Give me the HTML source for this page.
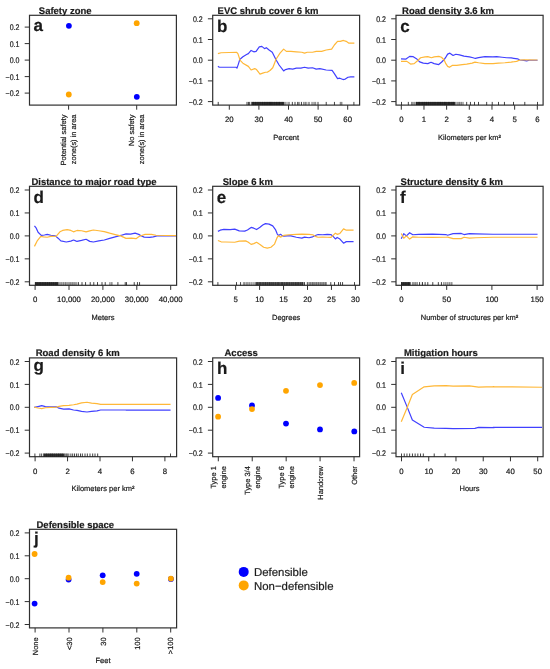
<!DOCTYPE html>
<html><head><meta charset="utf-8"><style>
html,body{margin:0;padding:0;background:#fff;}
body{width:550px;height:669px;overflow:hidden;}
svg{display:block;font-family:"Liberation Sans",sans-serif;fill:#1a1a1a;}
text{stroke:#1a1a1a;stroke-width:0.2;text-rendering:geometricPrecision;}
</style></head><body>
<svg width="550" height="669" viewBox="0 0 550 669">
<defs><filter id="bl" x="0" y="0" width="550" height="669" filterUnits="userSpaceOnUse" color-interpolation-filters="sRGB"><feGaussianBlur stdDeviation="0.35"/></filter></defs>
<rect width="550" height="669" fill="#fff"/>
<g fill="#1a1a1a" filter="url(#bl)">
<rect x="29.5" y="15.3" width="146.9" height="89.8" fill="none" stroke="#303030" stroke-width="1.2"/>
<line x1="24.7" y1="27.1" x2="29.5" y2="27.1" stroke="#303030" stroke-width="1"/>
<text transform="translate(19.5,30.2) scale(0.86,1)" font-size="8.2" text-anchor="end" font-weight="normal">0.2</text>
<line x1="24.7" y1="43.6" x2="29.5" y2="43.6" stroke="#303030" stroke-width="1"/>
<text transform="translate(19.5,46.7) scale(0.86,1)" font-size="8.2" text-anchor="end" font-weight="normal">0.1</text>
<line x1="24.7" y1="60.1" x2="29.5" y2="60.1" stroke="#303030" stroke-width="1"/>
<text transform="translate(19.5,63.2) scale(0.86,1)" font-size="8.2" text-anchor="end" font-weight="normal">0.0</text>
<line x1="24.7" y1="76.6" x2="29.5" y2="76.6" stroke="#303030" stroke-width="1"/>
<text transform="translate(19.5,79.7) scale(0.86,1)" font-size="8.2" text-anchor="end" font-weight="normal">−0.1</text>
<line x1="24.7" y1="93.1" x2="29.5" y2="93.1" stroke="#303030" stroke-width="1"/>
<text transform="translate(19.5,96.2) scale(0.86,1)" font-size="8.2" text-anchor="end" font-weight="normal">−0.2</text>
<line x1="68.6" y1="105.1" x2="68.6" y2="109.7" stroke="#303030" stroke-width="1"/>
<line x1="136.7" y1="105.1" x2="136.7" y2="109.7" stroke="#303030" stroke-width="1"/>
<text transform="translate(66.3,114.6) rotate(-90)" font-size="7.45" text-anchor="end">Potential safety</text>
<text transform="translate(76.3,114.6) rotate(-90)" font-size="7.45" text-anchor="end">zone(s) in area</text>
<text transform="translate(134.4,114.6) rotate(-90)" font-size="7.45" text-anchor="end">No safety</text>
<text transform="translate(144.4,114.6) rotate(-90)" font-size="7.45" text-anchor="end">zone(s) in area</text>
<circle cx="68.9" cy="25.85" r="2.9" fill="#0000ff"/>
<circle cx="136.7" cy="23.2" r="2.9" fill="#ffa500"/>
<circle cx="68.8" cy="94.5" r="2.9" fill="#ffa500"/>
<circle cx="136.8" cy="96.8" r="2.9" fill="#0000ff"/>
<text x="38.8" y="13.8" font-size="9.5" text-anchor="start" font-weight="bold">Safety zone</text>
<text x="33.4" y="31.3" font-size="17" text-anchor="start" font-weight="bold">a</text>
<rect x="212.7" y="15.3" width="146.9" height="89.8" fill="none" stroke="#303030" stroke-width="1.2"/>
<line x1="207.9" y1="18.8" x2="212.7" y2="18.8" stroke="#303030" stroke-width="1"/>
<text transform="translate(202.7,21.9) scale(0.86,1)" font-size="8.2" text-anchor="end" font-weight="normal">0.2</text>
<line x1="207.9" y1="39.5" x2="212.7" y2="39.5" stroke="#303030" stroke-width="1"/>
<text transform="translate(202.7,42.6) scale(0.86,1)" font-size="8.2" text-anchor="end" font-weight="normal">0.1</text>
<line x1="207.9" y1="60.2" x2="212.7" y2="60.2" stroke="#303030" stroke-width="1"/>
<text transform="translate(202.7,63.3) scale(0.86,1)" font-size="8.2" text-anchor="end" font-weight="normal">0.0</text>
<line x1="207.9" y1="80.9" x2="212.7" y2="80.9" stroke="#303030" stroke-width="1"/>
<text transform="translate(202.7,84) scale(0.86,1)" font-size="8.2" text-anchor="end" font-weight="normal">−0.1</text>
<line x1="207.9" y1="101.6" x2="212.7" y2="101.6" stroke="#303030" stroke-width="1"/>
<text transform="translate(202.7,104.7) scale(0.86,1)" font-size="8.2" text-anchor="end" font-weight="normal">−0.2</text>
<line x1="229.3" y1="105.1" x2="229.3" y2="109.7" stroke="#303030" stroke-width="1"/>
<text x="229.3" y="122" font-size="7.8" text-anchor="middle" font-weight="normal">20</text>
<line x1="258.9" y1="105.1" x2="258.9" y2="109.7" stroke="#303030" stroke-width="1"/>
<text x="258.9" y="122" font-size="7.8" text-anchor="middle" font-weight="normal">30</text>
<line x1="288.5" y1="105.1" x2="288.5" y2="109.7" stroke="#303030" stroke-width="1"/>
<text x="288.5" y="122" font-size="7.8" text-anchor="middle" font-weight="normal">40</text>
<line x1="318.1" y1="105.1" x2="318.1" y2="109.7" stroke="#303030" stroke-width="1"/>
<text x="318.1" y="122" font-size="7.8" text-anchor="middle" font-weight="normal">50</text>
<line x1="347.7" y1="105.1" x2="347.7" y2="109.7" stroke="#303030" stroke-width="1"/>
<text x="347.7" y="122" font-size="7.8" text-anchor="middle" font-weight="normal">60</text>
<rect x="217.75" y="101.9" width="0.9" height="3.2" fill="#1a1a1a" fill-opacity="0.9"/>
<rect x="246.55" y="101.9" width="0.9" height="3.2" fill="#1a1a1a" fill-opacity="0.9"/>
<rect x="247.95" y="101.9" width="0.9" height="3.2" fill="#1a1a1a" fill-opacity="0.9"/>
<rect x="249.25" y="101.9" width="0.9" height="3.2" fill="#1a1a1a" fill-opacity="0.9"/>
<rect x="251.5" y="101.9" width="33" height="3.2" fill="#1a1a1a" fill-opacity="0.9"/>
<rect x="251.55" y="101.9" width="0.7" height="3.2" fill="#1a1a1a" fill-opacity="0.79"/>
<rect x="253.05" y="101.9" width="0.7" height="3.2" fill="#1a1a1a" fill-opacity="0.81"/>
<rect x="255.31" y="101.9" width="0.7" height="3.2" fill="#1a1a1a" fill-opacity="0.76"/>
<rect x="257.63" y="101.9" width="0.7" height="3.2" fill="#1a1a1a" fill-opacity="0.74"/>
<rect x="259.73" y="101.9" width="0.7" height="3.2" fill="#1a1a1a" fill-opacity="0.64"/>
<rect x="262.03" y="101.9" width="0.7" height="3.2" fill="#1a1a1a" fill-opacity="0.88"/>
<rect x="264.14" y="101.9" width="0.7" height="3.2" fill="#1a1a1a" fill-opacity="0.75"/>
<rect x="265.7" y="101.9" width="0.7" height="3.2" fill="#1a1a1a" fill-opacity="0.72"/>
<rect x="267.53" y="101.9" width="0.7" height="3.2" fill="#1a1a1a" fill-opacity="0.84"/>
<rect x="269.19" y="101.9" width="0.7" height="3.2" fill="#1a1a1a" fill-opacity="0.76"/>
<rect x="270.45" y="101.9" width="0.7" height="3.2" fill="#1a1a1a" fill-opacity="0.95"/>
<rect x="271.65" y="101.9" width="0.7" height="3.2" fill="#1a1a1a" fill-opacity="0.89"/>
<rect x="273.95" y="101.9" width="0.7" height="3.2" fill="#1a1a1a" fill-opacity="0.61"/>
<rect x="276.08" y="101.9" width="0.7" height="3.2" fill="#1a1a1a" fill-opacity="0.71"/>
<rect x="277.72" y="101.9" width="0.7" height="3.2" fill="#1a1a1a" fill-opacity="0.61"/>
<rect x="279.29" y="101.9" width="0.7" height="3.2" fill="#1a1a1a" fill-opacity="0.91"/>
<rect x="281.8" y="101.9" width="0.7" height="3.2" fill="#1a1a1a" fill-opacity="0.57"/>
<rect x="285" y="101.9" width="3" height="3.2" fill="#1a1a1a" fill-opacity="0.29"/>
<rect x="285.05" y="101.9" width="0.7" height="3.2" fill="#1a1a1a" fill-opacity="0.27"/>
<rect x="288.55" y="101.9" width="0.9" height="3.2" fill="#1a1a1a" fill-opacity="0.9"/>
<rect x="291.85" y="101.9" width="0.9" height="3.2" fill="#1a1a1a" fill-opacity="0.9"/>
<rect x="294.55" y="101.9" width="0.9" height="3.2" fill="#1a1a1a" fill-opacity="0.9"/>
<rect x="297.25" y="101.9" width="0.9" height="3.2" fill="#1a1a1a" fill-opacity="0.9"/>
<rect x="298.55" y="101.9" width="0.9" height="3.2" fill="#1a1a1a" fill-opacity="0.9"/>
<rect x="300.95" y="101.9" width="0.9" height="3.2" fill="#1a1a1a" fill-opacity="0.9"/>
<rect x="303.3" y="101.9" width="4.2" height="3.2" fill="#1a1a1a" fill-opacity="0.34"/>
<rect x="303.35" y="101.9" width="0.7" height="3.2" fill="#1a1a1a" fill-opacity="0.46"/>
<rect x="305.37" y="101.9" width="0.7" height="3.2" fill="#1a1a1a" fill-opacity="0.43"/>
<rect x="308.55" y="101.9" width="0.9" height="3.2" fill="#1a1a1a" fill-opacity="0.9"/>
<rect x="311.5" y="101.9" width="4.8" height="3.2" fill="#1a1a1a" fill-opacity="0.29"/>
<rect x="311.55" y="101.9" width="0.7" height="3.2" fill="#1a1a1a" fill-opacity="0.42"/>
<rect x="313.79" y="101.9" width="0.7" height="3.2" fill="#1a1a1a" fill-opacity="0.34"/>
<rect x="315.11" y="101.9" width="0.7" height="3.2" fill="#1a1a1a" fill-opacity="0.37"/>
<rect x="317.55" y="101.9" width="0.9" height="3.2" fill="#1a1a1a" fill-opacity="0.9"/>
<rect x="325.75" y="101.9" width="0.9" height="3.2" fill="#1a1a1a" fill-opacity="0.9"/>
<rect x="333.95" y="101.9" width="0.9" height="3.2" fill="#1a1a1a" fill-opacity="0.9"/>
<rect x="339.8" y="101.9" width="2.7" height="3.2" fill="#1a1a1a" fill-opacity="0.34"/>
<rect x="339.85" y="101.9" width="0.7" height="3.2" fill="#1a1a1a" fill-opacity="0.45"/>
<rect x="341.44" y="101.9" width="0.7" height="3.2" fill="#1a1a1a" fill-opacity="0.4"/>
<rect x="353.45" y="101.9" width="0.9" height="3.2" fill="#1a1a1a" fill-opacity="0.9"/>
<path d="M217.91 66.36 L219.27 67.27 L236.09 67.27 L237 68.18 L238.36 64.09 L239.73 59.55 L242.91 56.82 L246.55 54.55 L248.36 53.64 L251.09 50.45 L253.82 51.82 L256.09 51.36 L259.27 46.82 L261.82 46.36 L264.55 48.64 L266.36 47.73 L269.09 50 L272.27 52.27 L273.64 55 L275.91 59.55 L279.09 65 L283.64 70.91 L285.45 69.55 L289.09 68.64 L292.73 69.09 L296.36 68.18 L300.91 68.18 L304.55 67.27 L308.18 68.18 L308 68.18 L312.55 67.73 L316.18 69.09 L319.82 68.64 L326.18 70 L332.09 70.45 L334.36 73.64 L337.55 78.64 L339.82 78.18 L343 79.55 L345.27 79.09 L348 77.27 L350.73 76.82 L354.36 76.82" stroke="#4040ff" stroke-width="1.2" fill="none" stroke-linejoin="round"/>
<path d="M217.91 53.64 L221.09 52.73 L236.55 52.27 L237.91 53.64 L240.18 60.45 L242.91 63.18 L248.36 66.36 L251.09 70 L254.73 68.64 L256.55 69.55 L259.27 73.18 L260 74.09 L262.73 73.18 L265.45 72.27 L267.27 72.27 L270 70.45 L272.73 67.73 L274.55 63.18 L275.91 59.55 L280 53.18 L283.64 49.09 L286.36 51.36 L290.91 51.36 L296.36 51.82 L301.82 52.27 L304.55 53.18 L307.27 52.27 L308 52.27 L312.55 52.27 L316.18 51.36 L321.64 51.36 L326.18 50 L331.64 49.09 L334.36 45 L337.55 41.36 L340.27 41.36 L343.45 40.45 L346.18 41.36 L348.91 43.18 L351.64 43.18 L354.36 43.18" stroke="#ffb838" stroke-width="1.2" fill="none" stroke-linejoin="round"/>
<text x="217.6" y="13.8" font-size="9.5" text-anchor="start" font-weight="bold">EVC shrub cover 6 km</text>
<text x="217" y="31.7" font-size="17" text-anchor="start" font-weight="bold">b</text>
<text x="286.15" y="139.7" font-size="7.5" text-anchor="middle" font-weight="normal">Percent</text>
<rect x="396" y="15.3" width="147.1" height="89.8" fill="none" stroke="#303030" stroke-width="1.2"/>
<line x1="391.2" y1="18.8" x2="396" y2="18.8" stroke="#303030" stroke-width="1"/>
<text transform="translate(386,21.9) scale(0.86,1)" font-size="8.2" text-anchor="end" font-weight="normal">0.2</text>
<line x1="391.2" y1="39.5" x2="396" y2="39.5" stroke="#303030" stroke-width="1"/>
<text transform="translate(386,42.6) scale(0.86,1)" font-size="8.2" text-anchor="end" font-weight="normal">0.1</text>
<line x1="391.2" y1="60.2" x2="396" y2="60.2" stroke="#303030" stroke-width="1"/>
<text transform="translate(386,63.3) scale(0.86,1)" font-size="8.2" text-anchor="end" font-weight="normal">0.0</text>
<line x1="391.2" y1="80.9" x2="396" y2="80.9" stroke="#303030" stroke-width="1"/>
<text transform="translate(386,84) scale(0.86,1)" font-size="8.2" text-anchor="end" font-weight="normal">−0.1</text>
<line x1="391.2" y1="101.6" x2="396" y2="101.6" stroke="#303030" stroke-width="1"/>
<text transform="translate(386,104.7) scale(0.86,1)" font-size="8.2" text-anchor="end" font-weight="normal">−0.2</text>
<line x1="401.3" y1="105.1" x2="401.3" y2="109.7" stroke="#303030" stroke-width="1"/>
<text x="401.3" y="122" font-size="7.8" text-anchor="middle" font-weight="normal">0</text>
<line x1="423.97" y1="105.1" x2="423.97" y2="109.7" stroke="#303030" stroke-width="1"/>
<text x="423.97" y="122" font-size="7.8" text-anchor="middle" font-weight="normal">1</text>
<line x1="446.64" y1="105.1" x2="446.64" y2="109.7" stroke="#303030" stroke-width="1"/>
<text x="446.64" y="122" font-size="7.8" text-anchor="middle" font-weight="normal">2</text>
<line x1="469.31" y1="105.1" x2="469.31" y2="109.7" stroke="#303030" stroke-width="1"/>
<text x="469.31" y="122" font-size="7.8" text-anchor="middle" font-weight="normal">3</text>
<line x1="491.98" y1="105.1" x2="491.98" y2="109.7" stroke="#303030" stroke-width="1"/>
<text x="491.98" y="122" font-size="7.8" text-anchor="middle" font-weight="normal">4</text>
<line x1="514.65" y1="105.1" x2="514.65" y2="109.7" stroke="#303030" stroke-width="1"/>
<text x="514.65" y="122" font-size="7.8" text-anchor="middle" font-weight="normal">5</text>
<line x1="537.32" y1="105.1" x2="537.32" y2="109.7" stroke="#303030" stroke-width="1"/>
<text x="537.32" y="122" font-size="7.8" text-anchor="middle" font-weight="normal">6</text>
<rect x="401.05" y="101.9" width="0.9" height="3.2" fill="#1a1a1a" fill-opacity="0.9"/>
<rect x="407.85" y="101.9" width="0.9" height="3.2" fill="#1a1a1a" fill-opacity="0.9"/>
<rect x="411" y="101.9" width="5" height="3.2" fill="#1a1a1a" fill-opacity="0.34"/>
<rect x="411.05" y="101.9" width="0.7" height="3.2" fill="#1a1a1a" fill-opacity="0.38"/>
<rect x="412.54" y="101.9" width="0.7" height="3.2" fill="#1a1a1a" fill-opacity="0.38"/>
<rect x="414.49" y="101.9" width="0.7" height="3.2" fill="#1a1a1a" fill-opacity="0.37"/>
<rect x="416" y="101.9" width="39" height="3.2" fill="#1a1a1a" fill-opacity="0.9"/>
<rect x="416.05" y="101.9" width="0.7" height="3.2" fill="#1a1a1a" fill-opacity="0.72"/>
<rect x="417.95" y="101.9" width="0.7" height="3.2" fill="#1a1a1a" fill-opacity="0.62"/>
<rect x="419.22" y="101.9" width="0.7" height="3.2" fill="#1a1a1a" fill-opacity="0.8"/>
<rect x="421.82" y="101.9" width="0.7" height="3.2" fill="#1a1a1a" fill-opacity="0.77"/>
<rect x="423.85" y="101.9" width="0.7" height="3.2" fill="#1a1a1a" fill-opacity="0.94"/>
<rect x="425.92" y="101.9" width="0.7" height="3.2" fill="#1a1a1a" fill-opacity="0.94"/>
<rect x="428.13" y="101.9" width="0.7" height="3.2" fill="#1a1a1a" fill-opacity="0.87"/>
<rect x="430.53" y="101.9" width="0.7" height="3.2" fill="#1a1a1a" fill-opacity="0.93"/>
<rect x="432.47" y="101.9" width="0.7" height="3.2" fill="#1a1a1a" fill-opacity="0.69"/>
<rect x="433.8" y="101.9" width="0.7" height="3.2" fill="#1a1a1a" fill-opacity="0.74"/>
<rect x="435.4" y="101.9" width="0.7" height="3.2" fill="#1a1a1a" fill-opacity="0.68"/>
<rect x="437.15" y="101.9" width="0.7" height="3.2" fill="#1a1a1a" fill-opacity="0.63"/>
<rect x="438.58" y="101.9" width="0.7" height="3.2" fill="#1a1a1a" fill-opacity="0.94"/>
<rect x="439.97" y="101.9" width="0.7" height="3.2" fill="#1a1a1a" fill-opacity="0.94"/>
<rect x="441.87" y="101.9" width="0.7" height="3.2" fill="#1a1a1a" fill-opacity="0.79"/>
<rect x="444.21" y="101.9" width="0.7" height="3.2" fill="#1a1a1a" fill-opacity="0.85"/>
<rect x="445.56" y="101.9" width="0.7" height="3.2" fill="#1a1a1a" fill-opacity="0.83"/>
<rect x="448.01" y="101.9" width="0.7" height="3.2" fill="#1a1a1a" fill-opacity="0.73"/>
<rect x="449.33" y="101.9" width="0.7" height="3.2" fill="#1a1a1a" fill-opacity="0.6"/>
<rect x="451.58" y="101.9" width="0.7" height="3.2" fill="#1a1a1a" fill-opacity="0.92"/>
<rect x="453.14" y="101.9" width="0.7" height="3.2" fill="#1a1a1a" fill-opacity="0.86"/>
<rect x="455" y="101.9" width="9" height="3.2" fill="#1a1a1a" fill-opacity="0.34"/>
<rect x="455.05" y="101.9" width="0.7" height="3.2" fill="#1a1a1a" fill-opacity="0.32"/>
<rect x="457.61" y="101.9" width="0.7" height="3.2" fill="#1a1a1a" fill-opacity="0.44"/>
<rect x="459.26" y="101.9" width="0.7" height="3.2" fill="#1a1a1a" fill-opacity="0.5"/>
<rect x="460.91" y="101.9" width="0.7" height="3.2" fill="#1a1a1a" fill-opacity="0.45"/>
<rect x="466.25" y="101.9" width="0.9" height="3.2" fill="#1a1a1a" fill-opacity="0.9"/>
<rect x="469.95" y="101.9" width="0.9" height="3.2" fill="#1a1a1a" fill-opacity="0.9"/>
<rect x="474.05" y="101.9" width="0.9" height="3.2" fill="#1a1a1a" fill-opacity="0.9"/>
<rect x="478.05" y="101.9" width="0.9" height="3.2" fill="#1a1a1a" fill-opacity="0.9"/>
<rect x="486.25" y="101.9" width="0.9" height="3.2" fill="#1a1a1a" fill-opacity="0.9"/>
<rect x="491.75" y="101.9" width="0.9" height="3.2" fill="#1a1a1a" fill-opacity="0.9"/>
<rect x="498.05" y="101.9" width="0.9" height="3.2" fill="#1a1a1a" fill-opacity="0.9"/>
<rect x="503.95" y="101.9" width="0.9" height="3.2" fill="#1a1a1a" fill-opacity="0.9"/>
<rect x="513.05" y="101.9" width="0.9" height="3.2" fill="#1a1a1a" fill-opacity="0.9"/>
<rect x="524.35" y="101.9" width="0.9" height="3.2" fill="#1a1a1a" fill-opacity="0.9"/>
<rect x="537.05" y="101.9" width="0.9" height="3.2" fill="#1a1a1a" fill-opacity="0.9"/>
<path d="M401 58.82 L406 59.09 L409.64 56.36 L413.27 56.64 L416.45 58.64 L419.64 61.82 L423.27 63.18 L427.82 63.64 L431 62.27 L434.18 63.64 L438.73 64.55 L441.45 62.27 L444.18 59.55 L446 56.82 L447.64 54.09 L449.91 53.18 L453.09 55.45 L455.82 54.27 L459.45 54.82 L464 56.09 L469.45 56.82 L473.09 57.73 L475.36 58.45 L478.55 57.55 L484.91 56.64 L493 56.82 L496.64 56.64 L502.09 57.27 L506.64 57.73 L511.18 57.91 L517.55 58.82 L519.82 60 L523.91 60.45 L526.64 60.91 L529.36 60.27 L537.55 60.27" stroke="#4040ff" stroke-width="1.2" fill="none" stroke-linejoin="round"/>
<path d="M401 61.36 L406.91 61.36 L410.55 64.09 L414.18 63.64 L417.82 60.45 L420.55 57.73 L425.09 56.82 L427.82 56.64 L431.45 57.73 L434.18 56.82 L438.73 56.36 L441.45 57.27 L444.18 60 L445.82 63.64 L447.64 66.36 L449.45 67.27 L452.18 65.45 L456.73 65.45 L462.18 64.55 L466.73 64.09 L472.18 63.18 L474.91 62.09 L478.55 62.73 L484.91 63.64 L493 63.64 L498.45 63.18 L504.82 62.73 L511.18 62.09 L516.64 61.36 L519.82 60 L524.82 59.73 L537.55 60" stroke="#ffb838" stroke-width="1.2" fill="none" stroke-linejoin="round"/>
<text x="402.1" y="13.8" font-size="9.5" text-anchor="start" font-weight="bold">Road density 3.6 km</text>
<text x="400.3" y="31.9" font-size="17" text-anchor="start" font-weight="bold">c</text>
<text x="469.55" y="139.7" font-size="7.5" text-anchor="middle" font-weight="normal">Kilometers per km²</text>
<rect x="29.5" y="186.3" width="147.1" height="99" fill="none" stroke="#303030" stroke-width="1.2"/>
<line x1="24.7" y1="190" x2="29.5" y2="190" stroke="#303030" stroke-width="1"/>
<text transform="translate(19.5,193.1) scale(0.86,1)" font-size="8.2" text-anchor="end" font-weight="normal">0.2</text>
<line x1="24.7" y1="212.95" x2="29.5" y2="212.95" stroke="#303030" stroke-width="1"/>
<text transform="translate(19.5,216.05) scale(0.86,1)" font-size="8.2" text-anchor="end" font-weight="normal">0.1</text>
<line x1="24.7" y1="235.9" x2="29.5" y2="235.9" stroke="#303030" stroke-width="1"/>
<text transform="translate(19.5,239) scale(0.86,1)" font-size="8.2" text-anchor="end" font-weight="normal">0.0</text>
<line x1="24.7" y1="258.85" x2="29.5" y2="258.85" stroke="#303030" stroke-width="1"/>
<text transform="translate(19.5,261.95) scale(0.86,1)" font-size="8.2" text-anchor="end" font-weight="normal">−0.1</text>
<line x1="24.7" y1="281.8" x2="29.5" y2="281.8" stroke="#303030" stroke-width="1"/>
<text transform="translate(19.5,284.9) scale(0.86,1)" font-size="8.2" text-anchor="end" font-weight="normal">−0.2</text>
<line x1="35.1" y1="285.3" x2="35.1" y2="289.9" stroke="#303030" stroke-width="1"/>
<text x="35.1" y="302.2" font-size="7.8" text-anchor="middle" font-weight="normal">0</text>
<line x1="69" y1="285.3" x2="69" y2="289.9" stroke="#303030" stroke-width="1"/>
<text x="69" y="302.2" font-size="7.8" text-anchor="middle" font-weight="normal">10,000</text>
<line x1="102.9" y1="285.3" x2="102.9" y2="289.9" stroke="#303030" stroke-width="1"/>
<text x="102.9" y="302.2" font-size="7.8" text-anchor="middle" font-weight="normal">20,000</text>
<line x1="136.8" y1="285.3" x2="136.8" y2="289.9" stroke="#303030" stroke-width="1"/>
<text x="136.8" y="302.2" font-size="7.8" text-anchor="middle" font-weight="normal">30,000</text>
<line x1="170.7" y1="285.3" x2="170.7" y2="289.9" stroke="#303030" stroke-width="1"/>
<text x="170.7" y="302.2" font-size="7.8" text-anchor="middle" font-weight="normal">40,000</text>
<rect x="34.9" y="282.1" width="23.2" height="3.2" fill="#1a1a1a" fill-opacity="0.9"/>
<rect x="34.95" y="282.1" width="0.7" height="3.2" fill="#1a1a1a" fill-opacity="0.73"/>
<rect x="36.75" y="282.1" width="0.7" height="3.2" fill="#1a1a1a" fill-opacity="0.85"/>
<rect x="38.74" y="282.1" width="0.7" height="3.2" fill="#1a1a1a" fill-opacity="0.81"/>
<rect x="40.41" y="282.1" width="0.7" height="3.2" fill="#1a1a1a" fill-opacity="0.77"/>
<rect x="42.22" y="282.1" width="0.7" height="3.2" fill="#1a1a1a" fill-opacity="0.57"/>
<rect x="43.61" y="282.1" width="0.7" height="3.2" fill="#1a1a1a" fill-opacity="0.68"/>
<rect x="45.22" y="282.1" width="0.7" height="3.2" fill="#1a1a1a" fill-opacity="0.67"/>
<rect x="47.27" y="282.1" width="0.7" height="3.2" fill="#1a1a1a" fill-opacity="0.81"/>
<rect x="48.99" y="282.1" width="0.7" height="3.2" fill="#1a1a1a" fill-opacity="0.85"/>
<rect x="50.93" y="282.1" width="0.7" height="3.2" fill="#1a1a1a" fill-opacity="0.73"/>
<rect x="52.9" y="282.1" width="0.7" height="3.2" fill="#1a1a1a" fill-opacity="0.75"/>
<rect x="55.4" y="282.1" width="0.7" height="3.2" fill="#1a1a1a" fill-opacity="0.72"/>
<rect x="56.7" y="282.1" width="0.7" height="3.2" fill="#1a1a1a" fill-opacity="0.95"/>
<rect x="58.1" y="282.1" width="19.4" height="3.2" fill="#1a1a1a" fill-opacity="0.34"/>
<rect x="58.15" y="282.1" width="0.7" height="3.2" fill="#1a1a1a" fill-opacity="0.44"/>
<rect x="59.61" y="282.1" width="0.7" height="3.2" fill="#1a1a1a" fill-opacity="0.36"/>
<rect x="61.35" y="282.1" width="0.7" height="3.2" fill="#1a1a1a" fill-opacity="0.3"/>
<rect x="63.13" y="282.1" width="0.7" height="3.2" fill="#1a1a1a" fill-opacity="0.39"/>
<rect x="65.08" y="282.1" width="0.7" height="3.2" fill="#1a1a1a" fill-opacity="0.47"/>
<rect x="66.7" y="282.1" width="0.7" height="3.2" fill="#1a1a1a" fill-opacity="0.31"/>
<rect x="68.69" y="282.1" width="0.7" height="3.2" fill="#1a1a1a" fill-opacity="0.39"/>
<rect x="70.51" y="282.1" width="0.7" height="3.2" fill="#1a1a1a" fill-opacity="0.5"/>
<rect x="72.4" y="282.1" width="0.7" height="3.2" fill="#1a1a1a" fill-opacity="0.46"/>
<rect x="73.79" y="282.1" width="0.7" height="3.2" fill="#1a1a1a" fill-opacity="0.41"/>
<rect x="75.66" y="282.1" width="0.7" height="3.2" fill="#1a1a1a" fill-opacity="0.37"/>
<rect x="77.95" y="282.1" width="0.9" height="3.2" fill="#1a1a1a" fill-opacity="0.9"/>
<rect x="81.55" y="282.1" width="0.9" height="3.2" fill="#1a1a1a" fill-opacity="0.9"/>
<rect x="85.15" y="282.1" width="0.9" height="3.2" fill="#1a1a1a" fill-opacity="0.9"/>
<rect x="89.75" y="282.1" width="0.9" height="3.2" fill="#1a1a1a" fill-opacity="0.9"/>
<rect x="93.35" y="282.1" width="0.9" height="3.2" fill="#1a1a1a" fill-opacity="0.9"/>
<rect x="97.05" y="282.1" width="0.9" height="3.2" fill="#1a1a1a" fill-opacity="0.9"/>
<rect x="101.55" y="282.1" width="0.9" height="3.2" fill="#1a1a1a" fill-opacity="0.9"/>
<rect x="104.75" y="282.1" width="0.9" height="3.2" fill="#1a1a1a" fill-opacity="0.9"/>
<rect x="109.3" y="282.1" width="3.6" height="3.2" fill="#1a1a1a" fill-opacity="0.29"/>
<rect x="109.35" y="282.1" width="0.7" height="3.2" fill="#1a1a1a" fill-opacity="0.33"/>
<rect x="111.39" y="282.1" width="0.7" height="3.2" fill="#1a1a1a" fill-opacity="0.4"/>
<rect x="117.45" y="282.1" width="0.9" height="3.2" fill="#1a1a1a" fill-opacity="0.9"/>
<rect x="124.75" y="282.1" width="0.9" height="3.2" fill="#1a1a1a" fill-opacity="0.9"/>
<rect x="126.05" y="282.1" width="0.9" height="3.2" fill="#1a1a1a" fill-opacity="0.9"/>
<rect x="133.75" y="282.1" width="0.9" height="3.2" fill="#1a1a1a" fill-opacity="0.9"/>
<rect x="136.95" y="282.1" width="0.9" height="3.2" fill="#1a1a1a" fill-opacity="0.9"/>
<rect x="139.15" y="282.1" width="0.9" height="3.2" fill="#1a1a1a" fill-opacity="0.9"/>
<path d="M34.45 225.91 L36.27 228.18 L38.09 232.27 L41.27 235.45 L44.45 235 L47.18 234.36 L50.82 235.27 L55.36 235.91 L58.09 238.18 L60.82 240.91 L66.27 242 L70.82 241.09 L73.55 240 L76.27 241.09 L77 241.36 L81.55 240.45 L86.09 239.27 L89.73 241.36 L93.36 242 L98.82 240.91 L104.27 240 L109.73 238.36 L115.18 236.82 L120.64 235.45 L126 233.82 L130.55 234.09 L135.09 233.18 L138.73 234.36 L141.45 235.91 L144.18 237.09 L149.64 237.45 L153.27 236.82 L156.91 235.91 L176 235.91" stroke="#4040ff" stroke-width="1.2" fill="none" stroke-linejoin="round"/>
<path d="M34.45 246.36 L37.18 240.91 L40.82 236.36 L43.55 236.82 L47.18 237.27 L50.82 236.36 L56.27 236.18 L59.91 231.82 L62.64 230.45 L67.18 229.55 L70.82 230.45 L73.55 231.82 L76.27 230.73 L77 230.45 L81.55 230.73 L86.09 231.82 L89.73 230.91 L93.36 230 L98.82 230.73 L104.27 231.64 L109.73 233.18 L115.18 234.55 L120.64 235.91 L126 238.36 L131.45 238.18 L136 238.64 L138.73 236.82 L141.45 235.45 L145.09 234.36 L151.45 234.36 L156 235.27 L176 235.64" stroke="#ffb838" stroke-width="1.2" fill="none" stroke-linejoin="round"/>
<text x="31.4" y="184.8" font-size="9.5" text-anchor="start" font-weight="bold">Distance to major road type</text>
<text x="33.5" y="203" font-size="17" text-anchor="start" font-weight="bold">d</text>
<text x="103.05" y="319.9" font-size="7.5" text-anchor="middle" font-weight="normal">Meters</text>
<rect x="212.7" y="186.3" width="146.9" height="99" fill="none" stroke="#303030" stroke-width="1.2"/>
<line x1="207.9" y1="190" x2="212.7" y2="190" stroke="#303030" stroke-width="1"/>
<text transform="translate(202.7,193.1) scale(0.86,1)" font-size="8.2" text-anchor="end" font-weight="normal">0.2</text>
<line x1="207.9" y1="212.95" x2="212.7" y2="212.95" stroke="#303030" stroke-width="1"/>
<text transform="translate(202.7,216.05) scale(0.86,1)" font-size="8.2" text-anchor="end" font-weight="normal">0.1</text>
<line x1="207.9" y1="235.9" x2="212.7" y2="235.9" stroke="#303030" stroke-width="1"/>
<text transform="translate(202.7,239) scale(0.86,1)" font-size="8.2" text-anchor="end" font-weight="normal">0.0</text>
<line x1="207.9" y1="258.85" x2="212.7" y2="258.85" stroke="#303030" stroke-width="1"/>
<text transform="translate(202.7,261.95) scale(0.86,1)" font-size="8.2" text-anchor="end" font-weight="normal">−0.1</text>
<line x1="207.9" y1="281.8" x2="212.7" y2="281.8" stroke="#303030" stroke-width="1"/>
<text transform="translate(202.7,284.9) scale(0.86,1)" font-size="8.2" text-anchor="end" font-weight="normal">−0.2</text>
<line x1="235.65" y1="285.3" x2="235.65" y2="289.9" stroke="#303030" stroke-width="1"/>
<text x="235.65" y="302.2" font-size="7.8" text-anchor="middle" font-weight="normal">5</text>
<line x1="259.6" y1="285.3" x2="259.6" y2="289.9" stroke="#303030" stroke-width="1"/>
<text x="259.6" y="302.2" font-size="7.8" text-anchor="middle" font-weight="normal">10</text>
<line x1="283.55" y1="285.3" x2="283.55" y2="289.9" stroke="#303030" stroke-width="1"/>
<text x="283.55" y="302.2" font-size="7.8" text-anchor="middle" font-weight="normal">15</text>
<line x1="307.5" y1="285.3" x2="307.5" y2="289.9" stroke="#303030" stroke-width="1"/>
<text x="307.5" y="302.2" font-size="7.8" text-anchor="middle" font-weight="normal">20</text>
<line x1="331.45" y1="285.3" x2="331.45" y2="289.9" stroke="#303030" stroke-width="1"/>
<text x="331.45" y="302.2" font-size="7.8" text-anchor="middle" font-weight="normal">25</text>
<line x1="355.4" y1="285.3" x2="355.4" y2="289.9" stroke="#303030" stroke-width="1"/>
<text x="355.4" y="302.2" font-size="7.8" text-anchor="middle" font-weight="normal">30</text>
<rect x="217.45" y="282.1" width="0.9" height="3.2" fill="#1a1a1a" fill-opacity="0.9"/>
<rect x="236.05" y="282.1" width="0.9" height="3.2" fill="#1a1a1a" fill-opacity="0.9"/>
<rect x="240.15" y="282.1" width="0.9" height="3.2" fill="#1a1a1a" fill-opacity="0.9"/>
<rect x="242.9" y="282.1" width="12.7" height="3.2" fill="#1a1a1a" fill-opacity="0.29"/>
<rect x="242.95" y="282.1" width="0.7" height="3.2" fill="#1a1a1a" fill-opacity="0.33"/>
<rect x="244.25" y="282.1" width="0.7" height="3.2" fill="#1a1a1a" fill-opacity="0.41"/>
<rect x="246" y="282.1" width="0.7" height="3.2" fill="#1a1a1a" fill-opacity="0.31"/>
<rect x="247.49" y="282.1" width="0.7" height="3.2" fill="#1a1a1a" fill-opacity="0.4"/>
<rect x="249.25" y="282.1" width="0.7" height="3.2" fill="#1a1a1a" fill-opacity="0.35"/>
<rect x="251.33" y="282.1" width="0.7" height="3.2" fill="#1a1a1a" fill-opacity="0.27"/>
<rect x="253.56" y="282.1" width="0.7" height="3.2" fill="#1a1a1a" fill-opacity="0.28"/>
<rect x="255.6" y="282.1" width="48" height="3.2" fill="#1a1a1a" fill-opacity="0.76"/>
<rect x="255.65" y="282.1" width="0.7" height="3.2" fill="#1a1a1a" fill-opacity="0.55"/>
<rect x="256.86" y="282.1" width="0.7" height="3.2" fill="#1a1a1a" fill-opacity="0.72"/>
<rect x="258.87" y="282.1" width="0.7" height="3.2" fill="#1a1a1a" fill-opacity="0.61"/>
<rect x="260.22" y="282.1" width="0.7" height="3.2" fill="#1a1a1a" fill-opacity="0.54"/>
<rect x="262.68" y="282.1" width="0.7" height="3.2" fill="#1a1a1a" fill-opacity="0.75"/>
<rect x="264.97" y="282.1" width="0.7" height="3.2" fill="#1a1a1a" fill-opacity="0.77"/>
<rect x="267.04" y="282.1" width="0.7" height="3.2" fill="#1a1a1a" fill-opacity="0.6"/>
<rect x="269.17" y="282.1" width="0.7" height="3.2" fill="#1a1a1a" fill-opacity="0.72"/>
<rect x="270.76" y="282.1" width="0.7" height="3.2" fill="#1a1a1a" fill-opacity="0.69"/>
<rect x="272.73" y="282.1" width="0.7" height="3.2" fill="#1a1a1a" fill-opacity="0.8"/>
<rect x="275.2" y="282.1" width="0.7" height="3.2" fill="#1a1a1a" fill-opacity="0.59"/>
<rect x="276.98" y="282.1" width="0.7" height="3.2" fill="#1a1a1a" fill-opacity="0.52"/>
<rect x="278.48" y="282.1" width="0.7" height="3.2" fill="#1a1a1a" fill-opacity="0.76"/>
<rect x="281" y="282.1" width="0.7" height="3.2" fill="#1a1a1a" fill-opacity="0.62"/>
<rect x="282.21" y="282.1" width="0.7" height="3.2" fill="#1a1a1a" fill-opacity="0.7"/>
<rect x="284.21" y="282.1" width="0.7" height="3.2" fill="#1a1a1a" fill-opacity="0.53"/>
<rect x="286.17" y="282.1" width="0.7" height="3.2" fill="#1a1a1a" fill-opacity="0.57"/>
<rect x="287.43" y="282.1" width="0.7" height="3.2" fill="#1a1a1a" fill-opacity="0.55"/>
<rect x="289.24" y="282.1" width="0.7" height="3.2" fill="#1a1a1a" fill-opacity="0.61"/>
<rect x="291.55" y="282.1" width="0.7" height="3.2" fill="#1a1a1a" fill-opacity="0.8"/>
<rect x="293.17" y="282.1" width="0.7" height="3.2" fill="#1a1a1a" fill-opacity="0.51"/>
<rect x="295.03" y="282.1" width="0.7" height="3.2" fill="#1a1a1a" fill-opacity="0.7"/>
<rect x="296.74" y="282.1" width="0.7" height="3.2" fill="#1a1a1a" fill-opacity="0.7"/>
<rect x="298.16" y="282.1" width="0.7" height="3.2" fill="#1a1a1a" fill-opacity="0.61"/>
<rect x="300.47" y="282.1" width="0.7" height="3.2" fill="#1a1a1a" fill-opacity="0.75"/>
<rect x="302.33" y="282.1" width="0.7" height="3.2" fill="#1a1a1a" fill-opacity="0.84"/>
<rect x="304.05" y="282.1" width="0.9" height="3.2" fill="#1a1a1a" fill-opacity="0.9"/>
<rect x="306.85" y="282.1" width="0.9" height="3.2" fill="#1a1a1a" fill-opacity="0.9"/>
<rect x="308.5" y="282.1" width="18.5" height="3.2" fill="#1a1a1a" fill-opacity="0.45"/>
<rect x="308.55" y="282.1" width="0.7" height="3.2" fill="#1a1a1a" fill-opacity="0.36"/>
<rect x="309.93" y="282.1" width="0.7" height="3.2" fill="#1a1a1a" fill-opacity="0.38"/>
<rect x="312.41" y="282.1" width="0.7" height="3.2" fill="#1a1a1a" fill-opacity="0.6"/>
<rect x="313.76" y="282.1" width="0.7" height="3.2" fill="#1a1a1a" fill-opacity="0.39"/>
<rect x="315.86" y="282.1" width="0.7" height="3.2" fill="#1a1a1a" fill-opacity="0.56"/>
<rect x="318.18" y="282.1" width="0.7" height="3.2" fill="#1a1a1a" fill-opacity="0.47"/>
<rect x="320.51" y="282.1" width="0.7" height="3.2" fill="#1a1a1a" fill-opacity="0.46"/>
<rect x="322.8" y="282.1" width="0.7" height="3.2" fill="#1a1a1a" fill-opacity="0.48"/>
<rect x="325.12" y="282.1" width="0.7" height="3.2" fill="#1a1a1a" fill-opacity="0.43"/>
<rect x="330.35" y="282.1" width="0.9" height="3.2" fill="#1a1a1a" fill-opacity="0.9"/>
<rect x="334.05" y="282.1" width="0.9" height="3.2" fill="#1a1a1a" fill-opacity="0.9"/>
<rect x="338.05" y="282.1" width="0.9" height="3.2" fill="#1a1a1a" fill-opacity="0.9"/>
<rect x="339.95" y="282.1" width="0.9" height="3.2" fill="#1a1a1a" fill-opacity="0.9"/>
<rect x="342.15" y="282.1" width="0.9" height="3.2" fill="#1a1a1a" fill-opacity="0.9"/>
<rect x="354.05" y="282.1" width="0.9" height="3.2" fill="#1a1a1a" fill-opacity="0.9"/>
<path d="M217.91 231.36 L220.18 230.18 L223.82 229.36 L230.18 229.55 L234.73 229.09 L239.27 230.91 L244.73 231.09 L247.45 230 L251.09 227.45 L253.82 228.18 L256.55 229.55 L259.27 227.73 L260 227.27 L262.73 225 L265.45 223.64 L269.09 224.09 L272.73 225.91 L275.45 229.55 L277.27 234.09 L278.64 235.45 L280.45 234.36 L281.82 235.27 L283.64 236.18 L287.27 235.91 L290.91 235.91 L296.36 237.27 L301.82 238.18 L304.55 237.09 L309 237.73 L312.64 236.82 L315.36 235.45 L318.09 234.55 L322.64 234.73 L327.18 234.36 L330.82 234.55 L332.64 235.91 L335.36 238.91 L337.18 237.45 L339.91 239.09 L343.55 243.18 L346.27 241.64 L353.55 241.64" stroke="#4040ff" stroke-width="1.2" fill="none" stroke-linejoin="round"/>
<path d="M217.91 240.45 L221.09 241.82 L225.64 242 L234.73 242.27 L239.27 241.18 L245.64 240.91 L248.36 242.27 L251.09 244.36 L253.82 243.64 L256.55 242.27 L259.27 244.09 L260 244.55 L263.64 247.27 L267.27 248.18 L270.91 247.27 L274.55 244.09 L276.82 238.18 L278.18 235.91 L280.91 237.09 L283.64 235.45 L289.09 234.73 L296.36 234.36 L301.82 234.09 L309 234.36 L312.64 234.73 L315.36 236.36 L318.09 237.27 L322.64 237.09 L327.18 237.27 L330.82 237.45 L332.64 235.91 L335.36 233.18 L337.18 234.36 L339.91 233.45 L343.55 228.91 L346.27 230.18 L353.55 230.18" stroke="#ffb838" stroke-width="1.2" fill="none" stroke-linejoin="round"/>
<text x="222.7" y="184.8" font-size="9.5" text-anchor="start" font-weight="bold">Slope 6 km</text>
<text x="216.8" y="203" font-size="17" text-anchor="start" font-weight="bold">e</text>
<text x="286.15" y="319.9" font-size="7.5" text-anchor="middle" font-weight="normal">Degrees</text>
<rect x="396" y="186.3" width="147.1" height="99" fill="none" stroke="#303030" stroke-width="1.2"/>
<line x1="391.2" y1="190" x2="396" y2="190" stroke="#303030" stroke-width="1"/>
<text transform="translate(386,193.1) scale(0.86,1)" font-size="8.2" text-anchor="end" font-weight="normal">0.2</text>
<line x1="391.2" y1="212.95" x2="396" y2="212.95" stroke="#303030" stroke-width="1"/>
<text transform="translate(386,216.05) scale(0.86,1)" font-size="8.2" text-anchor="end" font-weight="normal">0.1</text>
<line x1="391.2" y1="235.9" x2="396" y2="235.9" stroke="#303030" stroke-width="1"/>
<text transform="translate(386,239) scale(0.86,1)" font-size="8.2" text-anchor="end" font-weight="normal">0.0</text>
<line x1="391.2" y1="258.85" x2="396" y2="258.85" stroke="#303030" stroke-width="1"/>
<text transform="translate(386,261.95) scale(0.86,1)" font-size="8.2" text-anchor="end" font-weight="normal">−0.1</text>
<line x1="391.2" y1="281.8" x2="396" y2="281.8" stroke="#303030" stroke-width="1"/>
<text transform="translate(386,284.9) scale(0.86,1)" font-size="8.2" text-anchor="end" font-weight="normal">−0.2</text>
<line x1="401.5" y1="285.3" x2="401.5" y2="289.9" stroke="#303030" stroke-width="1"/>
<text x="401.5" y="302.2" font-size="7.8" text-anchor="middle" font-weight="normal">0</text>
<line x1="446.7" y1="285.3" x2="446.7" y2="289.9" stroke="#303030" stroke-width="1"/>
<text x="446.7" y="302.2" font-size="7.8" text-anchor="middle" font-weight="normal">50</text>
<line x1="491.9" y1="285.3" x2="491.9" y2="289.9" stroke="#303030" stroke-width="1"/>
<text x="491.9" y="302.2" font-size="7.8" text-anchor="middle" font-weight="normal">100</text>
<line x1="537.1" y1="285.3" x2="537.1" y2="289.9" stroke="#303030" stroke-width="1"/>
<text x="537.1" y="302.2" font-size="7.8" text-anchor="middle" font-weight="normal">150</text>
<rect x="401" y="282.1" width="9.5" height="3.2" fill="#1a1a1a" fill-opacity="0.9"/>
<rect x="401.05" y="282.1" width="0.7" height="3.2" fill="#1a1a1a" fill-opacity="0.85"/>
<rect x="403.46" y="282.1" width="0.7" height="3.2" fill="#1a1a1a" fill-opacity="0.76"/>
<rect x="405.54" y="282.1" width="0.7" height="3.2" fill="#1a1a1a" fill-opacity="0.83"/>
<rect x="407.87" y="282.1" width="0.7" height="3.2" fill="#1a1a1a" fill-opacity="0.94"/>
<rect x="409.68" y="282.1" width="0.7" height="3.2" fill="#1a1a1a" fill-opacity="0.72"/>
<rect x="411.9" y="282.1" width="5.9" height="3.2" fill="#1a1a1a" fill-opacity="0.34"/>
<rect x="411.95" y="282.1" width="0.7" height="3.2" fill="#1a1a1a" fill-opacity="0.32"/>
<rect x="413.58" y="282.1" width="0.7" height="3.2" fill="#1a1a1a" fill-opacity="0.39"/>
<rect x="415.28" y="282.1" width="0.7" height="3.2" fill="#1a1a1a" fill-opacity="0.37"/>
<rect x="416.91" y="282.1" width="0.7" height="3.2" fill="#1a1a1a" fill-opacity="0.45"/>
<rect x="419.15" y="282.1" width="0.9" height="3.2" fill="#1a1a1a" fill-opacity="0.9"/>
<rect x="421.9" y="282.1" width="1" height="3.2" fill="#1a1a1a" fill-opacity="0.83"/>
<rect x="421.95" y="282.1" width="0.7" height="3.2" fill="#1a1a1a" fill-opacity="0.55"/>
<rect x="424.65" y="282.1" width="0.9" height="3.2" fill="#1a1a1a" fill-opacity="0.9"/>
<rect x="427.35" y="282.1" width="0.9" height="3.2" fill="#1a1a1a" fill-opacity="0.9"/>
<rect x="432.35" y="282.1" width="0.9" height="3.2" fill="#1a1a1a" fill-opacity="0.9"/>
<rect x="437.85" y="282.1" width="0.9" height="3.2" fill="#1a1a1a" fill-opacity="0.9"/>
<rect x="440.95" y="282.1" width="0.9" height="3.2" fill="#1a1a1a" fill-opacity="0.9"/>
<rect x="443.2" y="282.1" width="9.5" height="3.2" fill="#1a1a1a" fill-opacity="0.29"/>
<rect x="443.25" y="282.1" width="0.7" height="3.2" fill="#1a1a1a" fill-opacity="0.37"/>
<rect x="445.27" y="282.1" width="0.7" height="3.2" fill="#1a1a1a" fill-opacity="0.29"/>
<rect x="447.27" y="282.1" width="0.7" height="3.2" fill="#1a1a1a" fill-opacity="0.31"/>
<rect x="449.15" y="282.1" width="0.7" height="3.2" fill="#1a1a1a" fill-opacity="0.39"/>
<rect x="451.43" y="282.1" width="0.7" height="3.2" fill="#1a1a1a" fill-opacity="0.45"/>
<path d="M401.27 238.64 L403.73 233.64 L406.45 235.91 L409.64 232.73 L412.82 234.73 L418.73 234.36 L432.36 234.09 L445.82 234.55 L447.64 235.27 L453.09 233.64 L461.27 233.45 L464 234.55 L469.45 233.64 L475.82 233.82 L493 234.27 L537.55 234.27" stroke="#4040ff" stroke-width="1.2" fill="none" stroke-linejoin="round"/>
<path d="M401.27 233.45 L403.73 238.18 L406.45 235.91 L409.64 239.09 L412.82 236.82 L418.73 237.27 L432.36 237.45 L445.82 237.27 L447.64 237.09 L453.09 238.64 L461.27 238.64 L464 237.27 L469.45 238.18 L475.82 237.73 L493 237.27 L537.55 237.27" stroke="#ffb838" stroke-width="1.2" fill="none" stroke-linejoin="round"/>
<text x="400.6" y="184.8" font-size="9.5" text-anchor="start" font-weight="bold">Structure density 6 km</text>
<text x="400" y="203" font-size="17" text-anchor="start" font-weight="bold">f</text>
<text x="469.55" y="319.9" font-size="7.5" text-anchor="middle" font-weight="normal">Number of structures per km²</text>
<rect x="29.5" y="357.9" width="147.1" height="98.8" fill="none" stroke="#303030" stroke-width="1.2"/>
<line x1="24.7" y1="361.5" x2="29.5" y2="361.5" stroke="#303030" stroke-width="1"/>
<text transform="translate(19.5,364.6) scale(0.86,1)" font-size="8.2" text-anchor="end" font-weight="normal">0.2</text>
<line x1="24.7" y1="384.4" x2="29.5" y2="384.4" stroke="#303030" stroke-width="1"/>
<text transform="translate(19.5,387.5) scale(0.86,1)" font-size="8.2" text-anchor="end" font-weight="normal">0.1</text>
<line x1="24.7" y1="407.3" x2="29.5" y2="407.3" stroke="#303030" stroke-width="1"/>
<text transform="translate(19.5,410.4) scale(0.86,1)" font-size="8.2" text-anchor="end" font-weight="normal">0.0</text>
<line x1="24.7" y1="430.2" x2="29.5" y2="430.2" stroke="#303030" stroke-width="1"/>
<text transform="translate(19.5,433.3) scale(0.86,1)" font-size="8.2" text-anchor="end" font-weight="normal">−0.1</text>
<line x1="24.7" y1="453.1" x2="29.5" y2="453.1" stroke="#303030" stroke-width="1"/>
<text transform="translate(19.5,456.2) scale(0.86,1)" font-size="8.2" text-anchor="end" font-weight="normal">−0.2</text>
<line x1="35.1" y1="456.7" x2="35.1" y2="461.3" stroke="#303030" stroke-width="1"/>
<text x="35.1" y="473.6" font-size="7.8" text-anchor="middle" font-weight="normal">0</text>
<line x1="67.55" y1="456.7" x2="67.55" y2="461.3" stroke="#303030" stroke-width="1"/>
<text x="67.55" y="473.6" font-size="7.8" text-anchor="middle" font-weight="normal">2</text>
<line x1="100" y1="456.7" x2="100" y2="461.3" stroke="#303030" stroke-width="1"/>
<text x="100" y="473.6" font-size="7.8" text-anchor="middle" font-weight="normal">4</text>
<line x1="132.45" y1="456.7" x2="132.45" y2="461.3" stroke="#303030" stroke-width="1"/>
<text x="132.45" y="473.6" font-size="7.8" text-anchor="middle" font-weight="normal">6</text>
<line x1="164.9" y1="456.7" x2="164.9" y2="461.3" stroke="#303030" stroke-width="1"/>
<text x="164.9" y="473.6" font-size="7.8" text-anchor="middle" font-weight="normal">8</text>
<rect x="34.45" y="453.5" width="0.9" height="3.2" fill="#1a1a1a" fill-opacity="0.9"/>
<rect x="39.45" y="453.5" width="0.9" height="3.2" fill="#1a1a1a" fill-opacity="0.9"/>
<rect x="41.25" y="453.5" width="0.9" height="3.2" fill="#1a1a1a" fill-opacity="0.9"/>
<rect x="43.5" y="453.5" width="21" height="3.2" fill="#1a1a1a" fill-opacity="0.9"/>
<rect x="43.55" y="453.5" width="0.7" height="3.2" fill="#1a1a1a" fill-opacity="0.94"/>
<rect x="45.96" y="453.5" width="0.7" height="3.2" fill="#1a1a1a" fill-opacity="0.77"/>
<rect x="48.38" y="453.5" width="0.7" height="3.2" fill="#1a1a1a" fill-opacity="0.59"/>
<rect x="50.44" y="453.5" width="0.7" height="3.2" fill="#1a1a1a" fill-opacity="0.91"/>
<rect x="52.31" y="453.5" width="0.7" height="3.2" fill="#1a1a1a" fill-opacity="0.78"/>
<rect x="54.26" y="453.5" width="0.7" height="3.2" fill="#1a1a1a" fill-opacity="0.6"/>
<rect x="56.24" y="453.5" width="0.7" height="3.2" fill="#1a1a1a" fill-opacity="0.66"/>
<rect x="58.09" y="453.5" width="0.7" height="3.2" fill="#1a1a1a" fill-opacity="0.82"/>
<rect x="59.85" y="453.5" width="0.7" height="3.2" fill="#1a1a1a" fill-opacity="0.78"/>
<rect x="61.8" y="453.5" width="0.7" height="3.2" fill="#1a1a1a" fill-opacity="0.92"/>
<rect x="64.5" y="453.5" width="5" height="3.2" fill="#1a1a1a" fill-opacity="0.45"/>
<rect x="64.55" y="453.5" width="0.7" height="3.2" fill="#1a1a1a" fill-opacity="0.41"/>
<rect x="65.96" y="453.5" width="0.7" height="3.2" fill="#1a1a1a" fill-opacity="0.55"/>
<rect x="67.56" y="453.5" width="0.7" height="3.2" fill="#1a1a1a" fill-opacity="0.48"/>
<rect x="70.45" y="453.5" width="0.9" height="3.2" fill="#1a1a1a" fill-opacity="0.9"/>
<rect x="72.25" y="453.5" width="0.9" height="3.2" fill="#1a1a1a" fill-opacity="0.9"/>
<rect x="74.05" y="453.5" width="0.9" height="3.2" fill="#1a1a1a" fill-opacity="0.9"/>
<rect x="75.95" y="453.5" width="0.9" height="3.2" fill="#1a1a1a" fill-opacity="0.9"/>
<rect x="77.75" y="453.5" width="0.9" height="3.2" fill="#1a1a1a" fill-opacity="0.9"/>
<rect x="80.05" y="453.5" width="0.9" height="3.2" fill="#1a1a1a" fill-opacity="0.9"/>
<rect x="81.85" y="453.5" width="0.9" height="3.2" fill="#1a1a1a" fill-opacity="0.9"/>
<rect x="84.55" y="453.5" width="0.9" height="3.2" fill="#1a1a1a" fill-opacity="0.9"/>
<rect x="86.85" y="453.5" width="0.9" height="3.2" fill="#1a1a1a" fill-opacity="0.9"/>
<rect x="89.55" y="453.5" width="0.9" height="3.2" fill="#1a1a1a" fill-opacity="0.9"/>
<rect x="92.25" y="453.5" width="0.9" height="3.2" fill="#1a1a1a" fill-opacity="0.9"/>
<rect x="94.55" y="453.5" width="0.9" height="3.2" fill="#1a1a1a" fill-opacity="0.9"/>
<rect x="97.25" y="453.5" width="0.9" height="3.2" fill="#1a1a1a" fill-opacity="0.9"/>
<rect x="170.05" y="453.5" width="0.9" height="3.2" fill="#1a1a1a" fill-opacity="0.9"/>
<path d="M34.27 407.45 L38.09 406.55 L41.73 405.64 L45.36 406.55 L50.82 406.82 L56.27 406.82 L59 408.18 L63.55 409.09 L69 408.91 L73.55 410 L77 410.45 L81.55 411.36 L87 412 L91.55 411.36 L97 410.91 L100.64 410 L127 410 L126 410.18 L170.55 410.18" stroke="#4040ff" stroke-width="1.2" fill="none" stroke-linejoin="round"/>
<path d="M34.27 407.09 L38.09 408 L41.73 408.64 L45.36 407.73 L50.82 407.45 L56.27 407.27 L59 406.36 L63.55 405.64 L69 405.45 L73.55 404.73 L77 404.09 L81.55 402.91 L87 402.27 L91.55 403.18 L97 403.64 L100.64 404.36 L127 404.36 L126 404.36 L170.55 404.36" stroke="#ffb838" stroke-width="1.2" fill="none" stroke-linejoin="round"/>
<text x="35.7" y="356.4" font-size="9.5" text-anchor="start" font-weight="bold">Road density 6 km</text>
<text x="33.5" y="370.6" font-size="17" text-anchor="start" font-weight="bold">g</text>
<text x="103.05" y="491.3" font-size="7.5" text-anchor="middle" font-weight="normal">Kilometers per km²</text>
<rect x="212.7" y="357.9" width="146.9" height="98.8" fill="none" stroke="#303030" stroke-width="1.2"/>
<line x1="207.9" y1="361.5" x2="212.7" y2="361.5" stroke="#303030" stroke-width="1"/>
<text transform="translate(202.7,364.6) scale(0.86,1)" font-size="8.2" text-anchor="end" font-weight="normal">0.2</text>
<line x1="207.9" y1="384.4" x2="212.7" y2="384.4" stroke="#303030" stroke-width="1"/>
<text transform="translate(202.7,387.5) scale(0.86,1)" font-size="8.2" text-anchor="end" font-weight="normal">0.1</text>
<line x1="207.9" y1="407.3" x2="212.7" y2="407.3" stroke="#303030" stroke-width="1"/>
<text transform="translate(202.7,410.4) scale(0.86,1)" font-size="8.2" text-anchor="end" font-weight="normal">0.0</text>
<line x1="207.9" y1="430.2" x2="212.7" y2="430.2" stroke="#303030" stroke-width="1"/>
<text transform="translate(202.7,433.3) scale(0.86,1)" font-size="8.2" text-anchor="end" font-weight="normal">−0.1</text>
<line x1="207.9" y1="453.1" x2="212.7" y2="453.1" stroke="#303030" stroke-width="1"/>
<text transform="translate(202.7,456.2) scale(0.86,1)" font-size="8.2" text-anchor="end" font-weight="normal">−0.2</text>
<line x1="218.3" y1="456.7" x2="218.3" y2="461.3" stroke="#303030" stroke-width="1"/>
<line x1="252.23" y1="456.7" x2="252.23" y2="461.3" stroke="#303030" stroke-width="1"/>
<line x1="286.16" y1="456.7" x2="286.16" y2="461.3" stroke="#303030" stroke-width="1"/>
<line x1="320.09" y1="456.7" x2="320.09" y2="461.3" stroke="#303030" stroke-width="1"/>
<line x1="354.02" y1="456.7" x2="354.02" y2="461.3" stroke="#303030" stroke-width="1"/>
<text transform="translate(216,466.2) rotate(-90)" font-size="7.45" text-anchor="end">Type 1</text>
<text transform="translate(226,466.2) rotate(-90)" font-size="7.45" text-anchor="end">engine</text>
<text transform="translate(249.93,466.2) rotate(-90)" font-size="7.45" text-anchor="end">Type 3/4</text>
<text transform="translate(259.93,466.2) rotate(-90)" font-size="7.45" text-anchor="end">engine</text>
<text transform="translate(283.86,466.2) rotate(-90)" font-size="7.45" text-anchor="end">Type 6</text>
<text transform="translate(293.86,466.2) rotate(-90)" font-size="7.45" text-anchor="end">engine</text>
<text transform="translate(322.79,466.2) rotate(-90)" font-size="7.45" text-anchor="end">Handcrew</text>
<text transform="translate(356.72,466.2) rotate(-90)" font-size="7.45" text-anchor="end">Other</text>
<circle cx="218.1" cy="397.9" r="2.9" fill="#0000ff"/>
<circle cx="218.1" cy="416.7" r="2.9" fill="#ffa500"/>
<circle cx="252" cy="405.5" r="2.9" fill="#0000ff"/>
<circle cx="252" cy="409.1" r="2.9" fill="#ffa500"/>
<circle cx="286" cy="423.6" r="2.9" fill="#0000ff"/>
<circle cx="286" cy="390.8" r="2.9" fill="#ffa500"/>
<circle cx="320" cy="429.4" r="2.9" fill="#0000ff"/>
<circle cx="320" cy="385.1" r="2.9" fill="#ffa500"/>
<circle cx="354.3" cy="431.4" r="2.9" fill="#0000ff"/>
<circle cx="354.2" cy="382.9" r="2.9" fill="#ffa500"/>
<text x="224.5" y="356.4" font-size="9.5" text-anchor="start" font-weight="bold">Access</text>
<text x="217" y="373.9" font-size="17" text-anchor="start" font-weight="bold">h</text>
<rect x="396" y="357.9" width="147.1" height="98.8" fill="none" stroke="#303030" stroke-width="1.2"/>
<line x1="391.2" y1="361.5" x2="396" y2="361.5" stroke="#303030" stroke-width="1"/>
<text transform="translate(386,364.6) scale(0.86,1)" font-size="8.2" text-anchor="end" font-weight="normal">0.2</text>
<line x1="391.2" y1="384.4" x2="396" y2="384.4" stroke="#303030" stroke-width="1"/>
<text transform="translate(386,387.5) scale(0.86,1)" font-size="8.2" text-anchor="end" font-weight="normal">0.1</text>
<line x1="391.2" y1="407.3" x2="396" y2="407.3" stroke="#303030" stroke-width="1"/>
<text transform="translate(386,410.4) scale(0.86,1)" font-size="8.2" text-anchor="end" font-weight="normal">0.0</text>
<line x1="391.2" y1="430.2" x2="396" y2="430.2" stroke="#303030" stroke-width="1"/>
<text transform="translate(386,433.3) scale(0.86,1)" font-size="8.2" text-anchor="end" font-weight="normal">−0.1</text>
<line x1="391.2" y1="453.1" x2="396" y2="453.1" stroke="#303030" stroke-width="1"/>
<text transform="translate(386,456.2) scale(0.86,1)" font-size="8.2" text-anchor="end" font-weight="normal">−0.2</text>
<line x1="401.5" y1="456.7" x2="401.5" y2="461.3" stroke="#303030" stroke-width="1"/>
<text x="401.5" y="473.6" font-size="7.8" text-anchor="middle" font-weight="normal">0</text>
<line x1="428.74" y1="456.7" x2="428.74" y2="461.3" stroke="#303030" stroke-width="1"/>
<text x="428.74" y="473.6" font-size="7.8" text-anchor="middle" font-weight="normal">10</text>
<line x1="455.98" y1="456.7" x2="455.98" y2="461.3" stroke="#303030" stroke-width="1"/>
<text x="455.98" y="473.6" font-size="7.8" text-anchor="middle" font-weight="normal">20</text>
<line x1="483.22" y1="456.7" x2="483.22" y2="461.3" stroke="#303030" stroke-width="1"/>
<text x="483.22" y="473.6" font-size="7.8" text-anchor="middle" font-weight="normal">30</text>
<line x1="510.46" y1="456.7" x2="510.46" y2="461.3" stroke="#303030" stroke-width="1"/>
<text x="510.46" y="473.6" font-size="7.8" text-anchor="middle" font-weight="normal">40</text>
<line x1="537.7" y1="456.7" x2="537.7" y2="461.3" stroke="#303030" stroke-width="1"/>
<text x="537.7" y="473.6" font-size="7.8" text-anchor="middle" font-weight="normal">50</text>
<rect x="401.05" y="453.5" width="0.9" height="3.2" fill="#1a1a1a" fill-opacity="0.9"/>
<rect x="403.77" y="453.5" width="0.9" height="3.2" fill="#1a1a1a" fill-opacity="0.9"/>
<rect x="406.5" y="453.5" width="0.9" height="3.2" fill="#1a1a1a" fill-opacity="0.9"/>
<rect x="409.22" y="453.5" width="0.9" height="3.2" fill="#1a1a1a" fill-opacity="0.9"/>
<rect x="411.95" y="453.5" width="0.9" height="3.2" fill="#1a1a1a" fill-opacity="0.9"/>
<rect x="414.67" y="453.5" width="0.9" height="3.2" fill="#1a1a1a" fill-opacity="0.9"/>
<rect x="417.39" y="453.5" width="0.9" height="3.2" fill="#1a1a1a" fill-opacity="0.9"/>
<rect x="420.12" y="453.5" width="0.9" height="3.2" fill="#1a1a1a" fill-opacity="0.9"/>
<rect x="422.84" y="453.5" width="0.9" height="3.2" fill="#1a1a1a" fill-opacity="0.9"/>
<rect x="433.74" y="453.5" width="0.9" height="3.2" fill="#1a1a1a" fill-opacity="0.9"/>
<rect x="444.63" y="453.5" width="0.9" height="3.2" fill="#1a1a1a" fill-opacity="0.9"/>
<path d="M401.27 392.73 L406.91 406.36 L412.36 420 L424.18 427.27 L434.18 428.18 L446 428.45 L453.09 428.64 L474.91 428.36 L478.55 427.45 L494 427.64 L493 427.45 L542.09 427.45" stroke="#4040ff" stroke-width="1.2" fill="none" stroke-linejoin="round"/>
<path d="M401.27 421.82 L406.91 408.18 L412.36 394.55 L424.18 386.82 L434.18 385.91 L446 385.64 L453.09 386.18 L469.45 385.91 L478.55 387.09 L494 386.55 L493 386.55 L542.09 387.27" stroke="#ffb838" stroke-width="1.2" fill="none" stroke-linejoin="round"/>
<text x="403.9" y="356.4" font-size="9.5" text-anchor="start" font-weight="bold">Mitigation hours</text>
<text x="400.2" y="373.9" font-size="17" text-anchor="start" font-weight="bold">i</text>
<text x="469.55" y="491.3" font-size="7.5" text-anchor="middle" font-weight="normal">Hours</text>
<rect x="29.5" y="529.3" width="147.1" height="98.6" fill="none" stroke="#303030" stroke-width="1.2"/>
<line x1="24.7" y1="532.9" x2="29.5" y2="532.9" stroke="#303030" stroke-width="1"/>
<text transform="translate(19.5,536) scale(0.86,1)" font-size="8.2" text-anchor="end" font-weight="normal">0.2</text>
<line x1="24.7" y1="555.8" x2="29.5" y2="555.8" stroke="#303030" stroke-width="1"/>
<text transform="translate(19.5,558.9) scale(0.86,1)" font-size="8.2" text-anchor="end" font-weight="normal">0.1</text>
<line x1="24.7" y1="578.7" x2="29.5" y2="578.7" stroke="#303030" stroke-width="1"/>
<text transform="translate(19.5,581.8) scale(0.86,1)" font-size="8.2" text-anchor="end" font-weight="normal">0.0</text>
<line x1="24.7" y1="601.6" x2="29.5" y2="601.6" stroke="#303030" stroke-width="1"/>
<text transform="translate(19.5,604.7) scale(0.86,1)" font-size="8.2" text-anchor="end" font-weight="normal">−0.1</text>
<line x1="24.7" y1="624.5" x2="29.5" y2="624.5" stroke="#303030" stroke-width="1"/>
<text transform="translate(19.5,627.6) scale(0.86,1)" font-size="8.2" text-anchor="end" font-weight="normal">−0.2</text>
<line x1="35.1" y1="627.9" x2="35.1" y2="632.5" stroke="#303030" stroke-width="1"/>
<line x1="69" y1="627.9" x2="69" y2="632.5" stroke="#303030" stroke-width="1"/>
<line x1="102.9" y1="627.9" x2="102.9" y2="632.5" stroke="#303030" stroke-width="1"/>
<line x1="136.8" y1="627.9" x2="136.8" y2="632.5" stroke="#303030" stroke-width="1"/>
<line x1="170.7" y1="627.9" x2="170.7" y2="632.5" stroke="#303030" stroke-width="1"/>
<text transform="translate(37.8,637.4) rotate(-90)" font-size="7.45" text-anchor="end">None</text>
<text transform="translate(71.7,637.4) rotate(-90)" font-size="7.45" text-anchor="end">&lt;30</text>
<text transform="translate(105.6,637.4) rotate(-90)" font-size="7.45" text-anchor="end">30</text>
<text transform="translate(139.5,637.4) rotate(-90)" font-size="7.45" text-anchor="end">100</text>
<text transform="translate(173.4,637.4) rotate(-90)" font-size="7.45" text-anchor="end">&gt;100</text>
<circle cx="34.6" cy="603.6" r="2.9" fill="#0000ff"/>
<circle cx="34.6" cy="554" r="2.9" fill="#ffa500"/>
<circle cx="68.6" cy="579.6" r="2.9" fill="#0000ff"/>
<circle cx="68.6" cy="577.7" r="2.9" fill="#ffa500"/>
<circle cx="102.7" cy="575.3" r="2.9" fill="#0000ff"/>
<circle cx="102.7" cy="582.1" r="2.9" fill="#ffa500"/>
<circle cx="136.7" cy="573.8" r="2.9" fill="#0000ff"/>
<circle cx="136.7" cy="583.6" r="2.9" fill="#ffa500"/>
<circle cx="170.9" cy="578.9" r="2.9" fill="#0000ff"/>
<circle cx="170.9" cy="578.6" r="2.9" fill="#ffa500"/>
<text x="36.5" y="527.7" font-size="9.5" text-anchor="start" font-weight="bold">Defensible space</text>
<text x="34" y="543.7" font-size="17" text-anchor="start" font-weight="bold">j</text>
<text x="103" y="663.3" font-size="7.5" text-anchor="middle" font-weight="normal">Feet</text>
<circle cx="243.7" cy="571.9" r="5" fill="#0000ff"/>
<circle cx="243.7" cy="585.4" r="5" fill="#ffa500"/>
<text x="254" y="576.3" font-size="11.4" text-anchor="start" font-weight="normal">Defensible</text>
<text x="254" y="589.6" font-size="11.4" text-anchor="start" font-weight="normal">Non−defensible</text>
</g>
</svg>
</body></html>
